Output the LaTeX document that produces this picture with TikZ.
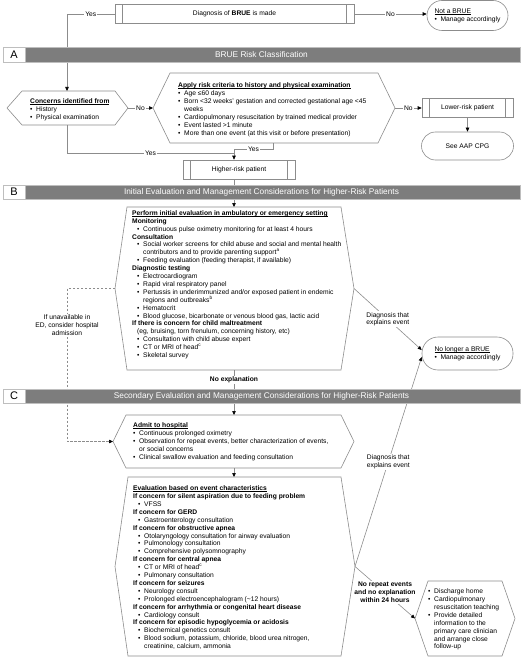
\documentclass[tikz,border=0pt]{standalone}
\usepackage{fontspec}
\setmainfont{Liberation Sans}
\usetikzlibrary{arrows.meta}

\definecolor{linegray}{RGB}{140,140,140}
\definecolor{bandgray}{RGB}{125,125,125}
\definecolor{bandedge}{RGB}{190,190,190}

\newcommand{\boxfont}{\fontsize{6.7}{7.9}\selectfont}
\newcommand{\bl}{\makebox[6pt][l]{\textbullet}}
\newcommand{\sbl}{\hspace*{5pt}\bl}
\newcommand{\cnt}{\hspace*{6pt}}
\newcommand{\scnt}{\hspace*{11pt}}
\newcommand{\ind}{\hspace*{5pt}}
\newcommand{\ul}[1]{\setbox0=\hbox{#1}\rlap{\rule[-1.2pt]{\wd0}{0.6pt}}\box0}
\newcommand{\hd}[1]{\ul{\textbf{#1}}}

\tikzset{
  line/.style={draw=linegray, line width=0.6pt},
  arr/.style={line, -{Triangle[length=4pt, width=3.5pt, color=black]}},
  dashline/.style={arr, dash pattern=on 2.5pt off 1.5pt},
  txt/.style={font=\boxfont, align=left, inner sep=0pt, anchor=north west},
  lbl/.style={font=\boxfont, align=center, fill=white, inner sep=1pt},
  process/.style={line, font=\boxfont, inner sep=0pt,
    path picture={\draw[linegray, line width=0.6pt]
      ([xshift=7.5pt]path picture bounding box.north west) -- ([xshift=7.5pt]path picture bounding box.south west)
      ([xshift=-7.5pt]path picture bounding box.north east) -- ([xshift=-7.5pt]path picture bounding box.south east);}},
  stadium/.style={line, font=\boxfont, align=left, inner sep=0pt, rounded corners=#1},
  band/.style={draw=bandedge, fill=bandgray, text=white, minimum width=517pt, minimum height=14.5pt,
    inner sep=0pt, font=\fontsize{8.3}{10}\selectfont},
  letterbox/.style={draw=bandedge, fill=white, minimum width=22pt, minimum height=14.5pt,
    inner sep=0pt, font=\fontsize{11}{12}\selectfont}
}

\begin{document}
\begin{tikzpicture}[x=1pt, y=-1pt]
  \useasboundingbox (0,0) rectangle (520,658);

  % Diagnosis (top row)
  \node[process, minimum width=239pt, minimum height=19pt] (diag) at (234.5,14) {Diagnosis of \textbf{BRUE} is made};
  \node[stadium=15pt, minimum width=81pt, minimum height=30pt] (notbrue) at (467.5,15.5) {\ul{Not a BRUE}\\\bl Manage accordingly};
  \draw[arr] (diag.east) -- node[lbl] {No} (diag.east -| notbrue.west);

  % A: risk classification
  \draw[line] (22,91) -- (67,91) coordinate (concerns-n) -- (115,91) -- (128,108) coordinate (concerns-e)
    -- (115,125) -- (67,125) coordinate (concerns-s) -- (22,125) -- (7,108) -- cycle;
  \node[txt] (concerns) at (30,98.6) {\hd{Concerns identified from}\\\bl History\\\bl Physical examination};
  \draw[arr] (diag.west) -| node[lbl, pos=0.25] {Yes} (concerns-n);

  \draw[line] (170,73) -- (378,73) -- (395,108) coordinate (criteria-e) -- (378,143)
    -- (273,143) coordinate (criteria-s) -- (170,143) -- (153,108) coordinate (criteria-w) -- cycle;
  \node[txt] (criteria) at (178,82.6) {\hd{Apply risk criteria to history and physical examination}\\
    \bl Age ≤60 days\\
    \bl Born <32 weeks' gestation and corrected gestational age <45\\
    \cnt weeks\\
    \bl Cardiopulmonary resuscitation by trained medical provider\\
    \bl Event lasted >1 minute\\
    \bl More than one event (at this visit or before presentation)};
  \draw[arr] (concerns-e) -- node[lbl] {No} (criteria-w);

  \node[process, minimum width=91pt, minimum height=19pt] (lowrisk) at (467.5,108) {Lower-risk patient};
  \node[stadium=14pt, minimum width=92pt, minimum height=28pt, align=center] (aap) at (467.5,146) {See AAP CPG};
  \draw[arr] (criteria-e) -- node[lbl] {No} (lowrisk.west);
  \draw[arr] (lowrisk.south) -- (aap.north);

  \coordinate (yesL) at (234,153);
  \coordinate (yesR) at (234,149);
  \node[process, minimum width=112pt, minimum height=19pt] (higher) at (239,169.5) {Higher-risk patient};
  \draw[line] (concerns-s) |- node[lbl, pos=0.75] {Yes} (yesL);
  \draw[line] (criteria-s) |- node[lbl, pos=0.75] {Yes} (yesR);
  \draw[arr] (yesR) -- (yesR |- higher.north);

  % B: initial evaluation
  \draw[line] (127,207) -- (234,207) coordinate (initial-n) -- (341,207) -- (354,288.5) coordinate (initial-e)
    -- (341,370) -- (234,370) coordinate (initial-s) -- (127,370) -- (115,288.5) coordinate (initial-w) -- cycle;
  \node[txt] (initial) at (132,210.3) {\hd{Perform initial evaluation in ambulatory or emergency setting}\\
    \textbf{Monitoring}\\
    \sbl Continuous pulse oximetry monitoring for at least 4 hours\\
    \textbf{Consultation}\\
    \sbl Social worker screens for child abuse and social and mental health\\
    \scnt contributors and to provide parenting support\textsuperscript{a}\\
    \sbl Feeding evaluation (feeding therapist, if available)\\
    \textbf{Diagnostic testing}\\
    \sbl Electrocardiogram\\
    \sbl Rapid viral respiratory panel\\
    \sbl Pertussis in underimmunized and/or exposed patient in endemic\\
    \scnt regions and outbreaks\textsuperscript{b}\\
    \sbl Hematocrit\\
    \sbl Blood glucose, bicarbonate or venous blood gas, lactic acid\\
    \textbf{If there is concern for child maltreatment}\\
    \ind(eg, bruising, torn frenulum, concerning history, etc)\\
    \sbl Consultation with child abuse expert\\
    \sbl CT or MRI of head\textsuperscript{c}\\
    \sbl Skeletal survey};
  \draw[arr] (higher.south -| initial-n) -- (initial-n);

  \node[stadium=16pt, minimum width=91pt, minimum height=33pt] (nolonger) at (467.5,353.5) {\ul{No longer a BRUE}\\\bl Manage accordingly};
  \draw[arr] (initial-e) -- node[lbl, align=left] {Diagnosis that\\explains event} ([yshift=3.5pt]nolonger.west);

  % C: secondary evaluation
  \draw[line] (126,415) -- (234,415) coordinate (admit-n) -- (341,415) -- (354,441.5)
    -- (341,468) -- (234,468) coordinate (admit-s) -- (126,468) -- (113,441.5) coordinate (admit-w) -- cycle;
  \node[txt] (admit) at (133,422.6) {\hd{Admit to hospital}\\
    \bl Continuous prolonged oximetry\\
    \bl Observation for repeat events, better characterization of events,\\
    \cnt or social concerns\\
    \bl Clinical swallow evaluation and feeding consultation};
  \draw[arr] (initial-s) -- node[lbl, pos=0.22, font=\boxfont\bfseries] {No explanation} (admit-n);
  \coordinate (dash-corner) at (67,288.5);
  \draw[dashline] (initial-w) -- (dash-corner) |- node[lbl, pos=0.12] {If unavailable in\\ED, consider hospital\\admission} (admit-w);

  \draw[line] (128,477) -- (234,477) coordinate (eval-n) -- (341,477) -- (355,566.5) coordinate (eval-e)
    -- (341,656) -- (128,656) -- (115,566.5) -- cycle;
  \node[txt] (evaluation) at (133,485.6) {\hd{Evaluation based on event characteristics}\\
    \textbf{If concern for silent aspiration due to feeding problem}\\
    \sbl VFSS\\
    \textbf{If concern for GERD}\\
    \sbl Gastroenterology consultation\\
    \textbf{If concern for obstructive apnea}\\
    \sbl Otolaryngology consultation for airway evaluation\\
    \sbl Pulmonology consultation\\
    \sbl Comprehensive polysomnography\\
    \textbf{If concern for central apnea}\\
    \sbl CT or MRI of head\textsuperscript{c}\\
    \sbl Pulmonary consultation\\
    \textbf{If concern for seizures}\\
    \sbl Neurology consult\\
    \sbl Prolonged electroencephalogram (\textasciitilde12 hours)\\
    \textbf{If concern for arrhythmia or congenital heart disease}\\
    \sbl Cardiology consult\\
    \textbf{If concern for episodic hypoglycemia or acidosis}\\
    \sbl Biochemical genetics consult\\
    \sbl Blood sodium, potassium, chloride, blood urea nitrogen,\\
    \scnt creatinine, calcium, ammonia};
  \draw[arr] (admit-s) -- (eval-n);

  \draw[line] (428,581) -- (502,581) -- (515,618.5) -- (502,656) -- (428,656) -- (415,618.5) coordinate (discharge-w) -- cycle;
  \node[txt] (discharge) at (428,588.6) {\bl Discharge home\\
    \bl Cardiopulmonary\\
    \cnt resuscitation teaching\\
    \bl Provide detailed\\
    \cnt information to the\\
    \cnt primary care clinician\\
    \cnt and arrange close\\
    \cnt follow-up};

  \draw[arr] (eval-e) -- node[lbl, align=left] {Diagnosis that\\explains event} ([yshift=-3.5pt]nolonger.west);
  \draw[arr] (eval-e) -- node[lbl, font=\boxfont\bfseries] {No repeat events\\and no explanation\\within 24 hours} (discharge-w);

  % section bands (on top of the lines)
  \node[band] (bandA) at (261.5,54.5) {BRUE Risk Classification};
  \node[letterbox, anchor=west] (letterA) at (bandA.west) {A};
  \node[band] (bandB) at (261.5,192) {Initial Evaluation and Management Considerations for Higher-Risk Patients};
  \node[letterbox, anchor=west] (letterB) at (bandB.west) {B};
  \node[band] (bandC) at (261.5,396) {Secondary Evaluation and Management Considerations for Higher-Risk Patients};
  \node[letterbox, anchor=west] (letterC) at (bandC.west) {C};
\end{tikzpicture}
\end{document}
